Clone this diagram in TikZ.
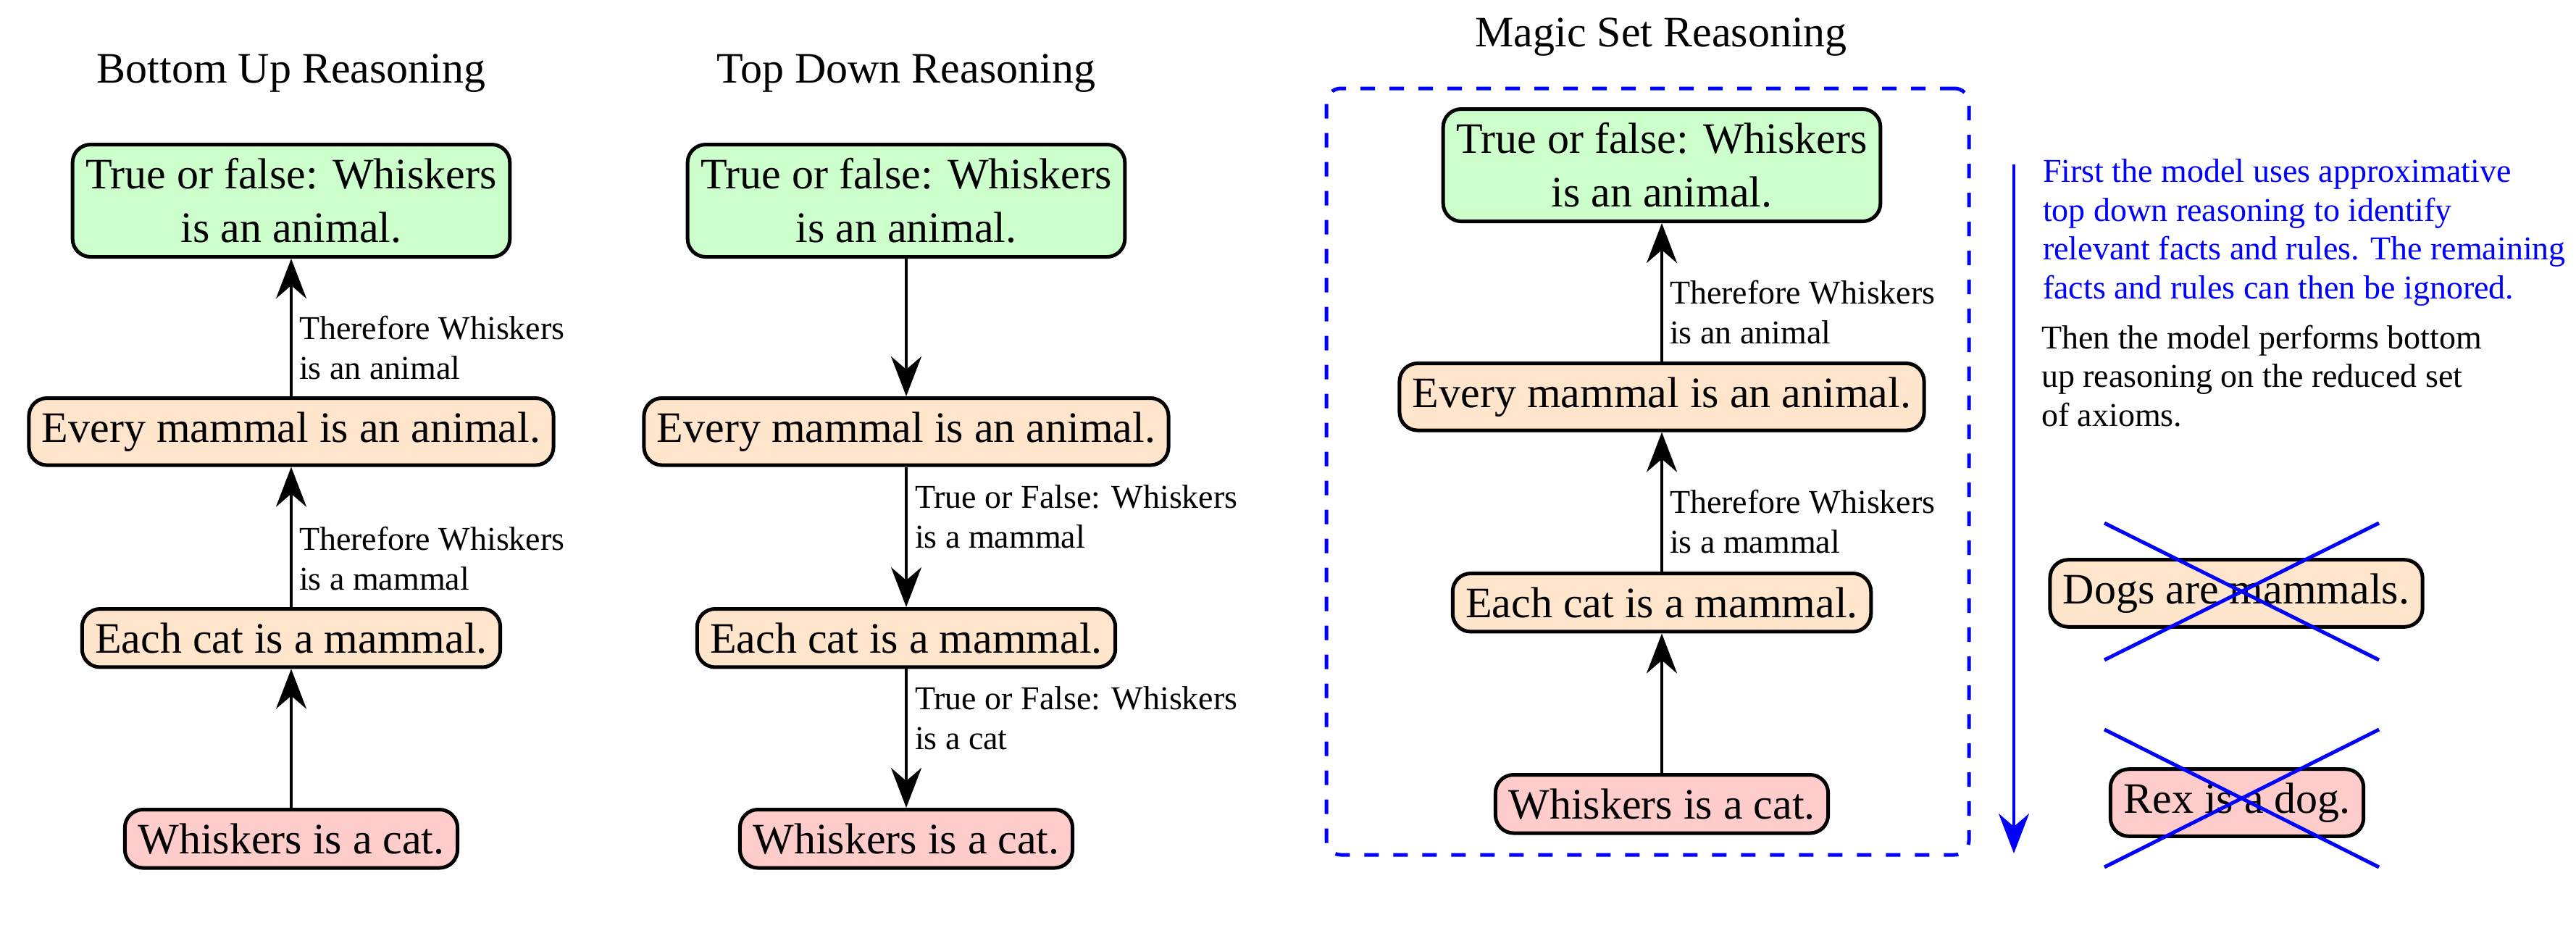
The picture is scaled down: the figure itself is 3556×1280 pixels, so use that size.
\documentclass[tikz,border=0pt]{standalone}
\usepackage{fontspec}
\setmainfont{Liberation Serif}
\usetikzlibrary{arrows.meta,calc,fit}
\definecolor{boxgreen}{HTML}{CCFFCC}
\definecolor{boxorange}{HTML}{FFE5CC}
\definecolor{boxred}{HTML}{FFCCCC}
\definecolor{pureblue}{HTML}{0000FF}
\begin{document}
\begin{tikzpicture}[x=0.2pt,y=-0.2pt,
  factbox/.style={draw, line width=1pt, rounded corners=5pt, inner xsep=3.6pt, inner ysep=3.8pt,
    font=\fontsize{12}{14.8}\selectfont, align=center, fill=boxred},
  goalbox/.style={factbox, fill=boxgreen},
  rulebox/.style={factbox, fill=boxorange},
  lbl/.style={font=\fontsize{9.2}{11}\selectfont, align=left, inner sep=0pt, anchor=north west},
  para/.style={font=\fontsize{9.2}{10.7}\selectfont, align=left, inner sep=0pt, anchor=north west},
  coltitle/.style={font=\fontsize{12}{14}\selectfont, anchor=base, inner sep=0pt},
  arr/.style={line width=0.8pt, -{Stealth[length=11pt,width=8.4pt,inset=3.6pt]}},
  magicframe/.style={draw=pureblue, line width=1pt, dash pattern=on 4pt off 4pt, rounded corners=4pt},
  cross/.style={draw=pureblue, line width=1pt}
]
\useasboundingbox (0,0) rectangle (3556,1280);

% Column 1: Bottom Up
\node[coltitle] (t1) at (402,114) {Bottom Up Reasoning};
\node[goalbox, anchor=north] (g1) at (402,197) {True or false: Whiskers\\is an animal.};
\node[rulebox, anchor=north] (r1) at (402,547) {Every mammal is an animal.};
\node[rulebox, anchor=north] (c1) at (402,838) {Each cat is a mammal.};
\node[factbox, anchor=north] (w1) at (402,1115) {Whiskers is a cat.};
\draw[arr] (w1) -- (c1);
\draw[arr] (c1) -- (r1);
\draw[arr] (r1) -- (g1);
\node[lbl] (l1a) at (412,435) {Therefore Whiskers\\is an animal};
\node[lbl] (l1b) at (412,726) {Therefore Whiskers\\is a mammal};

% Column 2: Top Down
\node[coltitle] (t2) at (1251,114) {Top Down Reasoning};
\node[goalbox, anchor=north] (g2) at (1251,197) {True or false: Whiskers\\is an animal.};
\node[rulebox, anchor=north] (r2) at (1251,547) {Every mammal is an animal.};
\node[rulebox, anchor=north] (c2) at (1251,838) {Each cat is a mammal.};
\node[factbox, anchor=north] (w2) at (1251,1115) {Whiskers is a cat.};
\draw[arr] (g2) -- (r2);
\draw[arr] (r2) -- (c2);
\draw[arr] (c2) -- (w2);
\node[lbl] (l2a) at (1262,669) {True or False: Whiskers\\is a mammal};
\node[lbl] (l2b) at (1262,947) {True or False: Whiskers\\is a cat};

% Column 3: Magic Set
\node[coltitle] (t3) at (2293,65) {Magic Set Reasoning};
\node[magicframe, fit={(1831,122) (2718,1180)}, inner sep=0pt] (frame) {};
\node[goalbox, anchor=north] (g3) at (2294,148) {True or false: Whiskers\\is an animal.};
\node[rulebox, anchor=north] (r3) at (2294,499) {Every mammal is an animal.};
\node[rulebox, anchor=north] (c3) at (2294,789) {Each cat is a mammal.};
\node[factbox, anchor=north] (w3) at (2294,1067) {Whiskers is a cat.};
\draw[arr] (w3) -- (c3);
\draw[arr] (c3) -- (r3);
\draw[arr] (r3) -- (g3);
\node[lbl] (l3a) at (2304,386) {Therefore Whiskers\\is an animal};
\node[lbl] (l3b) at (2304,675) {Therefore Whiskers\\is a mammal};

% Right side explanation
\coordinate (bs) at (2780,227);
\coordinate (be) at (2780,1178);
\draw[arr, pureblue] (bs) -- (be);
\node[para, text=pureblue] (p1) at (2819,219) {First the model uses approximative\\top down reasoning to identify\\relevant facts and rules. The remaining\\facts and rules can then be ignored.};
\node[para] (p2) at (2817,448) {Then the model performs bottom\\up reasoning on the reduced set\\of axioms.};

% Ignored facts
\node[rulebox] (dg) at (3087,819) {Dogs are mammals.};
\node[factbox] (rx) at (3088,1108) {Rex is a dog.};
\draw[cross] ($(dg)+(-182,-97)$) -- ($(dg)+(197,92)$);
\draw[cross] ($(dg)+(-182,92)$) -- ($(dg)+(197,-97)$);
\draw[cross] ($(rx)+(-183,-101)$) -- ($(rx)+(196,89)$);
\draw[cross] ($(rx)+(-183,89)$) -- ($(rx)+(196,-101)$);
\end{tikzpicture}
\end{document}
